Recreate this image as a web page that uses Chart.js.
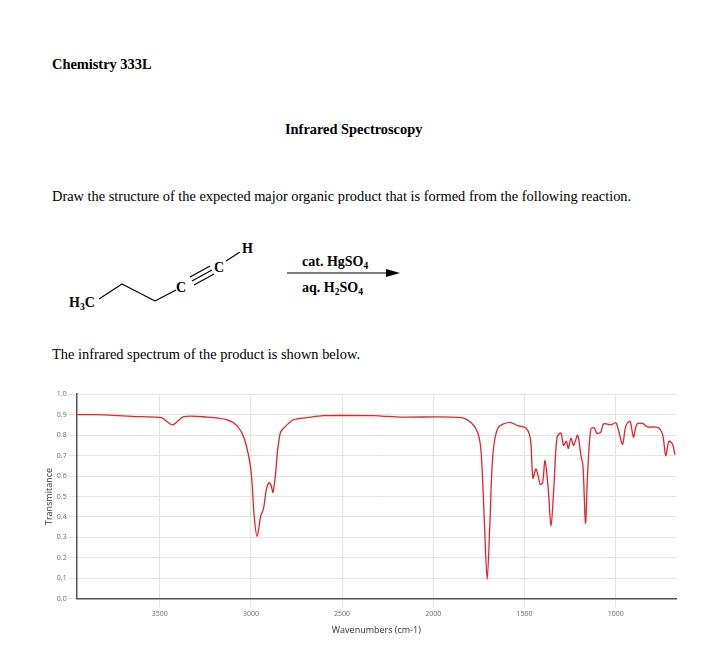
<!DOCTYPE html>
<html><head><meta charset="utf-8">
<script src="https://cdn.jsdelivr.net/npm/chart.js@4"></script>
<style>
body{margin:0;width:716px;height:670px;background:#fff;position:relative;font-family:"Liberation Serif","Times New Roman",serif;color:#000}
.t{position:absolute;font-size:14.4px;white-space:nowrap}
#wrap{position:absolute;left:44px;top:388px;width:642px;height:252px}
</style></head><body>
<div class="t" style="left:52px;top:56px;font-weight:bold">Chemistry 333L</div>
<div class="t" style="left:285px;top:121px;font-weight:bold">Infrared Spectroscopy</div>
<div class="t" style="left:52px;top:188px">Draw the structure of the expected major organic product that is formed from the following reaction.</div>
<div class="t" style="left:52px;top:346px">The infrared spectrum of the product is shown below.</div>
<svg style="position:absolute;left:0;top:0" width="716" height="380">
<g stroke="#000" stroke-width="1.2" fill="none">
<line x1="99" y1="299" x2="122" y2="284"/><line x1="122" y1="284" x2="155" y2="301"/><line x1="155" y1="301" x2="176" y2="290"/>
<line x1="190" y1="277" x2="210" y2="266"/><line x1="192" y1="281" x2="212" y2="270"/><line x1="194" y1="285" x2="214" y2="274"/>
<line x1="226" y1="261" x2="240" y2="252"/>
<line x1="287" y1="273" x2="390" y2="273"/>
</g>
<polygon points="400,273 386,269 386,277" fill="#000"/>
<g font-family="Liberation Serif" font-weight="bold" font-size="14">
<text x="69" y="307">H<tspan font-size="9.5" dy="3">3</tspan><tspan dy="-3">C</tspan></text>
<text x="176" y="292">C</text><text x="214" y="272">C</text><text x="242" y="253">H</text>
<text x="302" y="266">cat. HgSO<tspan font-size="9.5" dy="3">4</tspan></text>
<text x="302" y="292">aq. H<tspan font-size="9.5" dy="3">2</tspan><tspan dy="-3">SO</tspan><tspan font-size="9.5" dy="3">4</tspan></text>
</g></svg>
<div id="wrap"><canvas id="c"></canvas></div>
<script>
const wavenumbers=[3953,3840,3604,3490,3458,3427,3368,3239,3130,3075,3035,3000,2982,2966,2946,2931,2915,2900,2888,2879,2866,2853,2839,2825,2766,2693,2602,2329,2284,2175,1847,1792,1756,1738,1720,1705,1690,1674,1646,1583,1537,1492,1468,1454,1437,1414,1401,1388,1370,1355,1340,1322,1301,1286,1271,1260,1246,1231,1209,1191,1180,1166,1155,1137,1118,1104,1082,1067,1027,1000,984,963,945,922,903,885,854,825,771,744,726,709,689,676];
const transmittance=[0.90,0.90,0.89,0.885,0.865,0.85,0.89,0.888,0.875,0.845,0.78,0.63,0.405,0.305,0.405,0.44,0.535,0.568,0.55,0.52,0.60,0.73,0.81,0.83,0.875,0.885,0.895,0.895,0.893,0.888,0.886,0.86,0.81,0.715,0.37,0.095,0.37,0.70,0.835,0.862,0.846,0.835,0.78,0.59,0.635,0.56,0.566,0.675,0.535,0.355,0.535,0.79,0.81,0.75,0.77,0.735,0.785,0.75,0.80,0.70,0.65,0.37,0.60,0.83,0.835,0.81,0.815,0.855,0.85,0.86,0.82,0.755,0.845,0.867,0.79,0.853,0.857,0.84,0.838,0.805,0.70,0.77,0.755,0.705];
const xTicks=[3500,3000,2500,2000,1500,1000];
const xTitle="Wavenumbers (cm-1)", yTitle="Transmitance";
new Chart(document.getElementById('c'),{type:'line',
data:{datasets:[{data:wavenumbers.map((w,i)=>({x:w,y:transmittance[i]})),borderColor:'#e8212e',borderWidth:1.3,pointRadius:0,tension:0.3}]},
options:{responsive:true,maintainAspectRatio:false,animation:false,plugins:{legend:{display:false},tooltip:{enabled:false}},
layout:{padding:{right:10,top:6}},
scales:{x:{type:'linear',reverse:true,min:670,max:3955,border:{color:'#555',width:1.5},grid:{color:'#e3e3e3'},
afterBuildTicks:s=>{s.ticks=xTicks.map(v=>({value:v}));},
ticks:{font:{size:7,family:'Open Sans'},color:'#666',callback:v=>String(v)},
title:{display:true,text:xTitle,font:{size:9,family:'Open Sans'},color:'#333'}},
y:{min:0,max:1,border:{color:'#555',width:1.5},grid:{color:'#e3e3e3'},
ticks:{stepSize:0.1,padding:2,font:{size:7,family:'Open Sans'},color:'#666',callback:v=>v.toFixed(1)},
title:{display:true,text:yTitle,padding:0,font:{size:9,family:'Open Sans'},color:'#333'}}}}});
</script></body></html>
